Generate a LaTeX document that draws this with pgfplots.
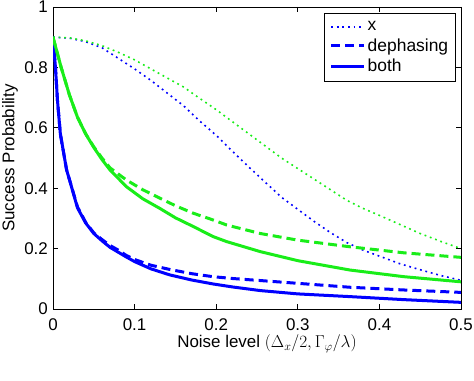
\documentclass[border=0pt]{standalone}
\usepackage{fontspec}
\setmainfont{Liberation Sans}
\usepackage{pgfplots}
\pgfplotsset{compat=1.18}
\definecolor{mblue}{rgb}{0,0,1}
\definecolor{mgreen}{rgb}{0.1,0.93,0.1}
\begin{document}
\begin{tikzpicture}
\useasboundingbox (0bp,0bp) rectangle (474bp,381bp);
\begin{axis}[
  at={(53bp,72bp)}, anchor=south west,
  scale only axis, width=408bp, height=302bp,
  xmin=0, xmax=0.5, ymin=0, ymax=1,
  xtick={0,0.1,0.2,0.3,0.4,0.5},
  xticklabels={0,0.1,0.2,0.3,0.4,0.5},
  ytick={0,0.2,0.4,0.6,0.8,1},
  yticklabels={0,0.2,0.4,0.6,0.8,1},
  /pgf/number format/assume math mode=true,
  tick align=inside,
  major tick length=5bp,
  tick style={black, line width=0.6bp},
  axis line style={line width=0.8bp, black},
  ticklabel style={font=\fontsize{17}{20}\selectfont},
  xticklabel style={anchor=north, inner sep=0pt, yshift=-9bp},
  yticklabel style={anchor=east, inner sep=0pt, xshift=-5bp},
  xlabel={Noise level $(\Delta_x/2, \Gamma_\varphi/\lambda)$},
  ylabel={Success Probability},
  label style={font=\fontsize{17}{20}\selectfont},
  xlabel style={at={(axis description cs:0.5245,-0.1159)}, anchor=center},
  ylabel style={at={(axis description cs:-0.1054,0.5)}, anchor=center},
  legend style={at={(axis description cs:0.988,0.98)}, anchor=north east,
    font=\fontsize{17.5}{20}\selectfont, draw=black, line width=0.8bp,
    inner xsep=5.5bp, inner ysep=7bp, row sep=4.5bp,
    cells={anchor=west},
    nodes={inner ysep=1bp, inner xsep=2bp}},
  legend image code/.code={\draw[#1] (0bp,0bp) -- (33bp,0bp);},
  legend cell align=left,
]
% blue: x noise (dotted)
\addplot[mblue, line width=1.6bp, dash pattern=on 1.8bp off 3.8bp] coordinates {
(0,0.90) (0.02,0.897) (0.04,0.885) (0.06,0.865) (0.08,0.83) (0.10,0.795)
(0.12,0.757) (0.14,0.715) (0.16,0.673) (0.18,0.622) (0.20,0.575) (0.22,0.522)
(0.24,0.47) (0.26,0.42) (0.28,0.37) (0.30,0.33) (0.32,0.29) (0.34,0.253)
(0.36,0.22) (0.38,0.195) (0.40,0.175) (0.425,0.15) (0.45,0.13) (0.475,0.111) (0.50,0.095)};
\addlegendentry{x}
% blue: dephasing (dashed)
\addplot[mblue, line width=3bp, dash pattern=on 9bp off 5bp] coordinates {
(0,0.90) (0.003,0.80) (0.0055,0.69) (0.009,0.58) (0.0167,0.46) (0.02,0.43)
(0.03,0.338) (0.04,0.287) (0.05,0.252) (0.06,0.23) (0.07,0.21) (0.08,0.195)
(0.09,0.177) (0.102,0.162) (0.12,0.145) (0.143,0.131) (0.17,0.117) (0.196,0.107)
(0.22,0.101) (0.25,0.095) (0.30,0.085) (0.364,0.072) (0.43,0.063) (0.50,0.055)};
\addlegendentry{dephasing}
% blue: both (solid)
\addplot[mblue, line width=3bp] coordinates {
(0,0.90) (0.003,0.80) (0.0055,0.69) (0.009,0.58) (0.0167,0.46) (0.02,0.43)
(0.03,0.335) (0.04,0.285) (0.05,0.25) (0.06,0.226) (0.07,0.204) (0.08,0.188)
(0.09,0.172) (0.10,0.157) (0.12,0.133) (0.143,0.113) (0.17,0.096) (0.196,0.083)
(0.22,0.073) (0.254,0.061) (0.30,0.05) (0.364,0.041) (0.43,0.031) (0.50,0.022)};
\addlegendentry{both}
% green: x noise (dotted)
\addplot[mgreen, line width=1.6bp, dash pattern=on 1.8bp off 3.8bp, forget plot] coordinates {
(0,0.90) (0.02,0.898) (0.04,0.888) (0.06,0.872) (0.08,0.85) (0.10,0.825)
(0.12,0.795) (0.14,0.765) (0.16,0.735) (0.18,0.697) (0.20,0.66) (0.22,0.62)
(0.24,0.58) (0.26,0.54) (0.28,0.50) (0.30,0.465) (0.32,0.43) (0.34,0.395)
(0.36,0.36) (0.38,0.333) (0.40,0.31) (0.425,0.28) (0.45,0.25) (0.475,0.224) (0.50,0.20)};
% green: dephasing (dashed)
\addplot[mgreen, line width=3bp, dash pattern=on 9bp off 5bp, forget plot] coordinates {
(0,0.90) (0.01,0.80) (0.02,0.71) (0.03,0.635) (0.04,0.58) (0.05,0.537)
(0.06,0.50) (0.07,0.467) (0.09,0.427) (0.11,0.395) (0.131,0.367) (0.15,0.342)
(0.172,0.317) (0.196,0.295) (0.213,0.278) (0.254,0.25) (0.30,0.228) (0.364,0.206)
(0.43,0.186) (0.50,0.171)};
% green: both (solid)
\addplot[mgreen, line width=3bp, forget plot] coordinates {
(0,0.90) (0.01,0.80) (0.02,0.71) (0.03,0.635) (0.04,0.58) (0.05,0.535)
(0.06,0.495) (0.07,0.46) (0.09,0.405) (0.11,0.365) (0.131,0.333) (0.15,0.302)
(0.172,0.273) (0.196,0.24) (0.213,0.223) (0.254,0.19) (0.30,0.16) (0.364,0.129)
(0.43,0.107) (0.50,0.09)};
\end{axis}
\end{tikzpicture}
\end{document}
